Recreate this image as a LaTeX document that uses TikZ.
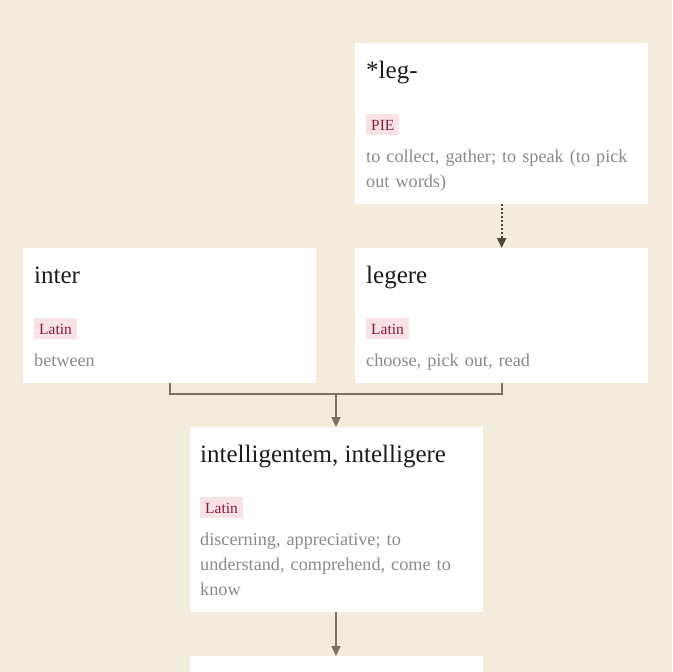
\documentclass[tikz,border=0pt]{standalone}
\usepackage{fontspec}
\setmainfont{Liberation Serif}
\usetikzlibrary{positioning,arrows.meta}
\definecolor{paper}{HTML}{F3ECDC}
\definecolor{ink}{HTML}{1C1C1C}
\definecolor{glossgray}{HTML}{8A8A8A}
\definecolor{tagfill}{HTML}{F7E3E6}
\definecolor{tagred}{HTML}{8B1A35}
\definecolor{wire}{HTML}{7A725F}
\definecolor{wiredark}{HTML}{4B4636}
\hyphenpenalty=10000
\exhyphenpenalty=10000
\begin{document}
\begin{tikzpicture}[x=1pt,y=-1pt]
		\tikzset{card/.style = {fill=white,anchor=north west,minimum width=293pt,inner sep=0pt}}
		\tikzset{word/.style = {anchor=base west,inner sep=0pt,text=ink,font=\fontsize{25}{30}\selectfont}}
		\tikzset{lang/.style = {anchor=north west,fill=tagfill,text=tagred,inner xsep=5pt,inner ysep=3pt,text height=13pt,text depth=2pt,font=\fontsize{15.5}{18}\selectfont}}
		\tikzset{gloss/.style = {anchor=base west,inner sep=0pt,text width=272pt,align=left,text=glossgray,font=\fontsize{18.2}{25}\selectfont}}
		\tikzset{link/.style = {-{Triangle[width=9pt,length=10pt]},wire,line width=2pt}}
		\fill[paper] (0,0) rectangle (672,672);
		\clip (0,0) rectangle (672,672);
		% cards
		\node[card,minimum height=161pt] (leg) at (355,43) {};
		\node[card,minimum height=135pt] (inter) at (23,248) {};
		\node[card,minimum height=135pt] (legere) at (355,248) {};
		\node[card,minimum height=185pt] (intel) at (190,427) {};
		\node[card,minimum height=40pt] (next) at (190,656) {};
		% texts
		\node[word] (legW) at ([shift={(11,35)}]leg.north west) {*leg-};
		\node[lang] (legL) at ([shift={(11,71)}]leg.north west) {PIE};
		\node[gloss] (legG) at ([shift={(11,119)}]leg.north west) {to collect, gather; to speak (to pick out words)};
		\node[word] (interW) at ([shift={(11,35)}]inter.north west) {inter};
		\node[lang] (interL) at ([shift={(11,70)}]inter.north west) {Latin};
		\node[gloss] (interG) at ([shift={(11,118)}]inter.north west) {between};
		\node[word] (legereW) at ([shift={(11,35)}]legere.north west) {legere};
		\node[lang] (legereL) at ([shift={(11,70)}]legere.north west) {Latin};
		\node[gloss] (legereG) at ([shift={(11,118)}]legere.north west) {choose, pick out, read};
		\node[word] (intelW) at ([shift={(10,35)}]intel.north west) {intelligentem, intelligere};
		\node[lang] (intelL) at ([shift={(10,70)}]intel.north west) {Latin};
		\node[gloss] (intelG) at ([shift={(10,118)}]intel.north west) {discerning, appreciative; to understand, comprehend, come to know};
		% links
		\coordinate (join) at (336,394);
		\draw[wire,line width=2pt] (inter.south) |- (join) -| (legere.south);
		\draw[link] (join) -- (join |- intel.north);
		\draw[link] (intel.south -| join) -- (join |- next.north);
		\draw[link,wiredark,dash pattern=on 2pt off 2pt] (leg.south) -- (legere.north);
	\end{tikzpicture}
\end{document}
